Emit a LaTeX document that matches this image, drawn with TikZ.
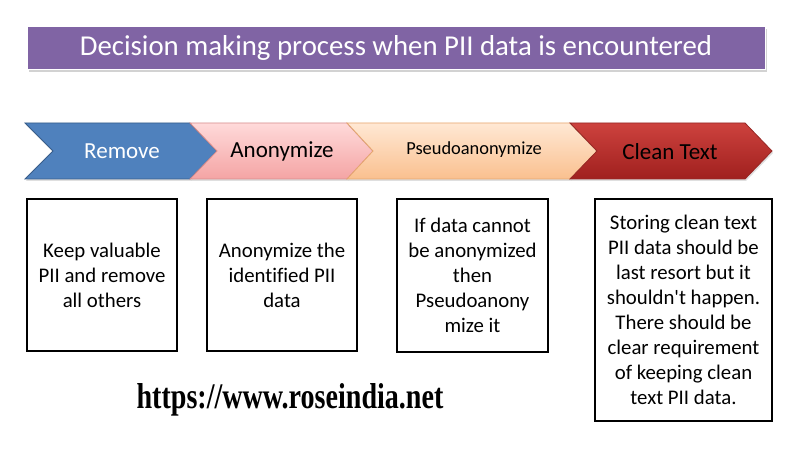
\documentclass[tikz,border=0pt]{standalone}
\usepackage{fontspec}
\setmainfont{Carlito}[Ligatures=CommonOff]
\newfontfamily\urlfont{Liberation Serif}
\usetikzlibrary{shadows}
\definecolor{titlepurple}{RGB}{128,100,164}
\definecolor{chblue}{RGB}{79,129,189}
\definecolor{chblueb}{RGB}{56,93,138}
\definecolor{pinktop}{RGB}{255,218,218}
\definecolor{pinkbot}{RGB}{244,164,164}
\definecolor{pinkb}{RGB}{215,140,140}
\definecolor{peachtop}{RGB}{255,232,212}
\definecolor{peachbot}{RGB}{250,192,143}
\definecolor{peachb}{RGB}{230,165,110}
\definecolor{redtop}{RGB}{205,66,62}
\definecolor{redbot}{RGB}{160,32,30}
\definecolor{redb}{RGB}{150,40,38}
\tikzset{
  chev/.style={line width=0.8pt, drop shadow={shadow xshift=1pt,shadow yshift=-2pt,opacity=0.25}},
  chevtext/.style={font=\fontsize{23}{26}\selectfont, anchor=center},
  infobox/.style={draw=black, line width=1.6pt, fill=white, align=center,
    font=\fontsize{20.8}{25}\selectfont, inner sep=0pt},
}
\begin{document}
\begin{tikzpicture}[x=1pt,y=-1pt]
\useasboundingbox (0,0) rectangle (800,465);
\fill[white] (0,0) rectangle (800,465);
% title bar
\node[fill=titlepurple, draw=white, line width=1pt, minimum width=738pt, minimum height=43pt,
  inner sep=0pt, text=white, font=\fontsize{28.8}{32}\selectfont,
  drop shadow={shadow xshift=2pt,shadow yshift=-3pt,opacity=0.35}] (title) at (396,48)
  {Decision making process when PII data is encountered};
% chevrons
\draw[chev, draw=chblueb, fill=chblue] (25,123) -- (190,123) -- (217,151) -- (190,179) -- (25,179) -- (53,151) -- cycle;
\draw[chev, draw=pinkb, top color=pinktop, bottom color=pinkbot] (190,123) -- (347,123) -- (373,151) -- (347,179) -- (190,179) -- (217,151) -- cycle;
\draw[chev, draw=peachb, top color=peachtop, bottom color=peachbot] (347,123) -- (570,123) -- (597,151) -- (570,179) -- (347,179) -- (373,151) -- cycle;
\draw[chev, draw=redb, top color=redtop, bottom color=redbot] (570,123) -- (745,123) -- (772,151) -- (745,179) -- (570,179) -- (597,151) -- cycle;
\node[chevtext, text=white] (remove) at (122,151) {Remove};
\node[chevtext, text=black] (anon) at (282,151) {Anonymize};
\node[chevtext, text=black, font=\fontsize{18.4}{21}\selectfont] (pseudo) at (474,150) {Pseudoanonymize};
\node[chevtext, text=black] (clean) at (670,152) {Clean Text};
% boxes
\node[infobox, minimum width=150pt, minimum height=152pt] (b1) at (102,275)
  {Keep valuable\\PII and remove\\all others};
\node[infobox, minimum width=150pt, minimum height=152pt] (b2) at (282,275)
  {Anonymize the\\identified PII\\data};
\node[infobox, minimum width=151pt, minimum height=153pt] (b3) at (472.5,275.5)
  {If data cannot\\be anonymized\\then\\Pseudoanony\\mize it};
\node[infobox, minimum width=177pt, minimum height=222pt] (b4) at (683.5,310)
  {Storing clean text\\PII data should be\\last resort but it\\shouldn\textquotesingle t happen.\\There should be\\clear requirement\\of keeping clean\\text PII data.};
% url
\node[font=\urlfont\bfseries\fontsize{36}{40}\selectfont, xscale=0.78, inner sep=0pt] (url) at (290,400)
  {https://www.roseindia.net};
\end{tikzpicture}
\end{document}
